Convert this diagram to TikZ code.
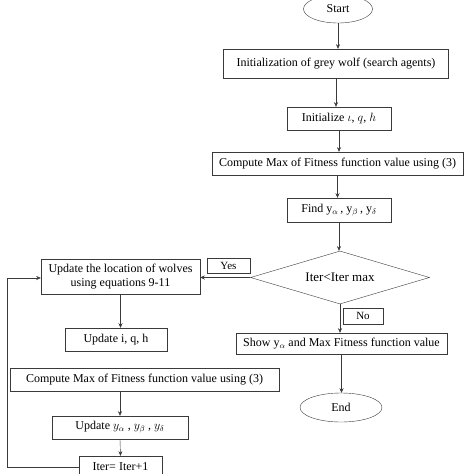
\documentclass[tikz,border=0pt]{standalone}
\usepackage{amsmath,amssymb}
\usepackage{fontspec}
\setmainfont{Liberation Serif}
\usepackage{xcolor}
\usetikzlibrary{arrows.meta, positioning, shapes.geometric, calc}
\definecolor{lineclr}{HTML}{3A3A3A}

\begin{document}
\begin{tikzpicture}[
  x=1pt, y=-1pt,
  font=\fontsize{12}{13.5}\selectfont,
  procbox/.style={rectangle, draw=lineclr, thin, inner sep=1pt, align=center},
  termnode/.style={ellipse, draw=lineclr, thin, inner sep=0pt},
  decnode/.style={diamond, draw=lineclr, thin, inner sep=0pt, shape aspect=3.4},
  tagbox/.style={rectangle, draw=lineclr, thin, inner sep=0pt, font=\fontsize{11}{12}\selectfont},
  arrbase/.style={-{Stealth[length=1.6mm, width=1.4mm]}, thin, lineclr}
]
\useasboundingbox (0,0) rectangle (474,474);

% Main column on the right
\node[termnode, minimum width=69pt, minimum height=28pt] (start) at (338, 9) {Start};
\node[procbox, minimum width=225pt, minimum height=29pt] (init) at (336, 63.5)
  {Initialization of grey wolf (search agents)};
\node[procbox, minimum width=104pt, minimum height=23pt] (initlqh) at (339, 118.5)
  {Initialize $\iota$, $q$, $h$};
\node[procbox, minimum width=251pt, minimum height=23pt] (fitA) at (337.5, 163.5)
  {Compute Max of Fitness function value using (3)};
\node[procbox, minimum width=104pt, minimum height=24pt] (find) at (339, 210)
  {Find y$_\alpha$\,, y$_\beta$\,, y$_\delta$};
\node[decnode, minimum width=179pt, minimum height=53pt] (itercheck) at (340, 277.5)
  {\fontsize{13}{14}\selectfont Iter<Iter max};
\node[procbox, minimum width=211pt, minimum height=21pt] (show) at (341.5, 343.5)
  {Show y$_\alpha$ and Max Fitness function value};
\node[termnode, minimum width=82pt, minimum height=29pt] (end) at (341, 407.5) {End};

% Branch labels
\node[tagbox, minimum width=43pt, minimum height=15pt] (yes) at (228.5, 265.5) {Yes};
\node[tagbox, minimum width=40pt, minimum height=16pt] (no) at (363, 316) {No};

% Update loop on the left
\node[procbox, minimum width=159pt, minimum height=35pt] (updloc) at (120.5, 276.5)
  {Update the location of wolves\\ using equations 9-11};
\node[procbox, minimum width=102pt, minimum height=23pt] (updiqh) at (116, 339.5)
  {Update i, q, h};
\node[procbox, minimum width=269pt, minimum height=23pt] (fitB) at (144.5, 379.5)
  {Compute Max of Fitness function value using (3)};
\node[procbox, minimum width=136pt, minimum height=23pt] (updy) at (120, 427.5)
  {Update $y_\alpha$ , $y_\beta$ , $y_\delta$};
\node[procbox, minimum width=83pt, minimum height=22pt] (iterinc) at (120.5, 467)
  {Iter= Iter+1};
\coordinate (loopc) at (7, 278);

% Arrows down the main column
\foreach \a/\b in {start/init, init/initlqh, initlqh/fitA, fitA/find,
                   find/itercheck, itercheck/show, show/end}{
  \draw[arrbase] (\a.south) -- (\a.south |- \b.north);
}

% Yes branch and left column
\draw[arrbase] (itercheck.west) -- (itercheck.west -| updloc.east);
\draw[arrbase] (updloc.south) -- (updloc.south |- updiqh.north);
\draw[arrbase] (updy.north |- fitB.south) -- (updy.north);
\draw[arrbase] (updy.south) -- (iterinc.north);

% Back to the location update
\draw[arrbase] (iterinc.west) -| (loopc) -- (updloc.west |- loopc);

\end{tikzpicture}
\end{document}
